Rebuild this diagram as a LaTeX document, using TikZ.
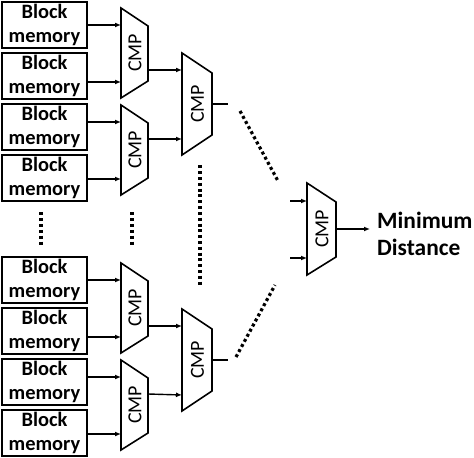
\documentclass[tikz,border=0pt]{standalone}
\usepackage{fontspec}
\setmainfont{Carlito}
\usetikzlibrary{arrows.meta}

\begin{document}
\begin{tikzpicture}[x=1bp, y=-1bp,
	mem/.style={draw, line width=2.2bp, minimum width=85bp, minimum height=46bp, inner sep=0pt,
		align=center, font=\fontsize{20.5}{24}\selectfont\bfseries},
	cmplabel/.style={rotate=90, inner sep=0pt, font=\fontsize{20}{20}\selectfont},
	unit/.style={line width=1.6bp, line join=miter},
	arr/.style={line width=1.4bp, -{Latex[length=6bp,width=5bp]}},
	dots/.style={line width=3.2bp, dash pattern=on 3bp off 2.8bp}]

	\useasboundingbox (0,0) rectangle (474,458);

	% BLOCK MEMORIES
	\foreach \t [count=\i] in {2,53,104,155,257,308,359,410}{
		\node[mem] (b\i) at (44.5,\t+23) {Block\\memory};
	}

	% STAGE 1
	\def \xl{121}
	\def \xr{148}
	\foreach \t [count=\i] in {8,105,263,360}{
		\draw[unit] (\xl,\t) -- (\xr,\t+18) -- (\xr,\t+73) -- (\xl,\t+90) -- cycle;
		\node[cmplabel] (s\i) at (135,\t+45) {CMP};
		\coordinate (s\i a) at (\xl,\t+17);
		\coordinate (s\i b) at (\xl,\t+74);
	}
	\coordinate (s1o) at (\xr,70);
	\coordinate (s2o) at (\xr,139);
	\coordinate (s3o) at (\xr,326);
	\coordinate (s4o) at (\xr,394);

	\foreach \i/\j/\k in {1/1/2, 2/3/4, 3/5/6, 4/7/8}{
		\draw[arr] (b\j.east |- s\i a) -- (s\i a);
		\draw[arr] (b\k.east |- s\i b) -- (s\i b);
	}

	% STAGE 2
	\def \xl{182}
	\def \xr{212}
	\foreach \t [count=\i] in {53,309}{
		\draw[unit] (\xl,\t) -- (\xr,\t+20) -- (\xr,\t+82) -- (\xl,\t+102) -- cycle;
		\node[cmplabel] (m\i) at (197.5,\t+51) {CMP};
		\coordinate (m\i a) at (\xl,\t+17);
		\coordinate (m\i b) at (\xl,\t+86);
		\coordinate (m\i o) at (\xr,\t+51);
		\coordinate (m\i e) at (228,\t+51);
		\draw[line width=1.4bp] (m\i o) -- (m\i e);
	}
	\draw[arr] (s1o) -- (m1a);
	\draw[arr] (s2o) -- (m1b);
	\draw[arr] (s3o) -- (m2a);
	\draw[arr] (s4o) -- (m2b);

	% FINAL STAGE
	\def \xl{307}
	\def \xr{336}
	\def \t{183}
	\draw[unit] (\xl,\t) -- (\xr,\t+19) -- (\xr,\t+74) -- (\xl,\t+92) -- cycle;
	\node[cmplabel] (f) at (322,\t+46) {CMP};
	\coordinate (fa) at (\xl,\t+18);
	\coordinate (fb) at (\xl,\t+75);
	\coordinate (fo) at (\xr,\t+46);
	\coordinate (fe) at (370,\t+46);
	\coordinate (fai) at (290,\t+18);
	\coordinate (fbi) at (290,\t+75);
	\draw[arr] (fai) -- (fa);
	\draw[arr] (fbi) -- (fb);
	\draw[arr] (fo) -- (fe);

	\node[align=left, anchor=west, inner sep=0pt, font=\fontsize{23.5}{27}\selectfont\bfseries]
		(res) at (377,234) {Minimum\\Distance};

	% DOTS
	\draw[dots] (41,212.5) -- (41,245);
	\draw[dots] (132,212.5) -- (132,245);
	\draw[dots] (200,165.5) -- (200,285);
	\draw[dots] (240,111) -- (278,181);
	\draw[dots] (236,357) -- (275,285);

\end{tikzpicture}
\end{document}
